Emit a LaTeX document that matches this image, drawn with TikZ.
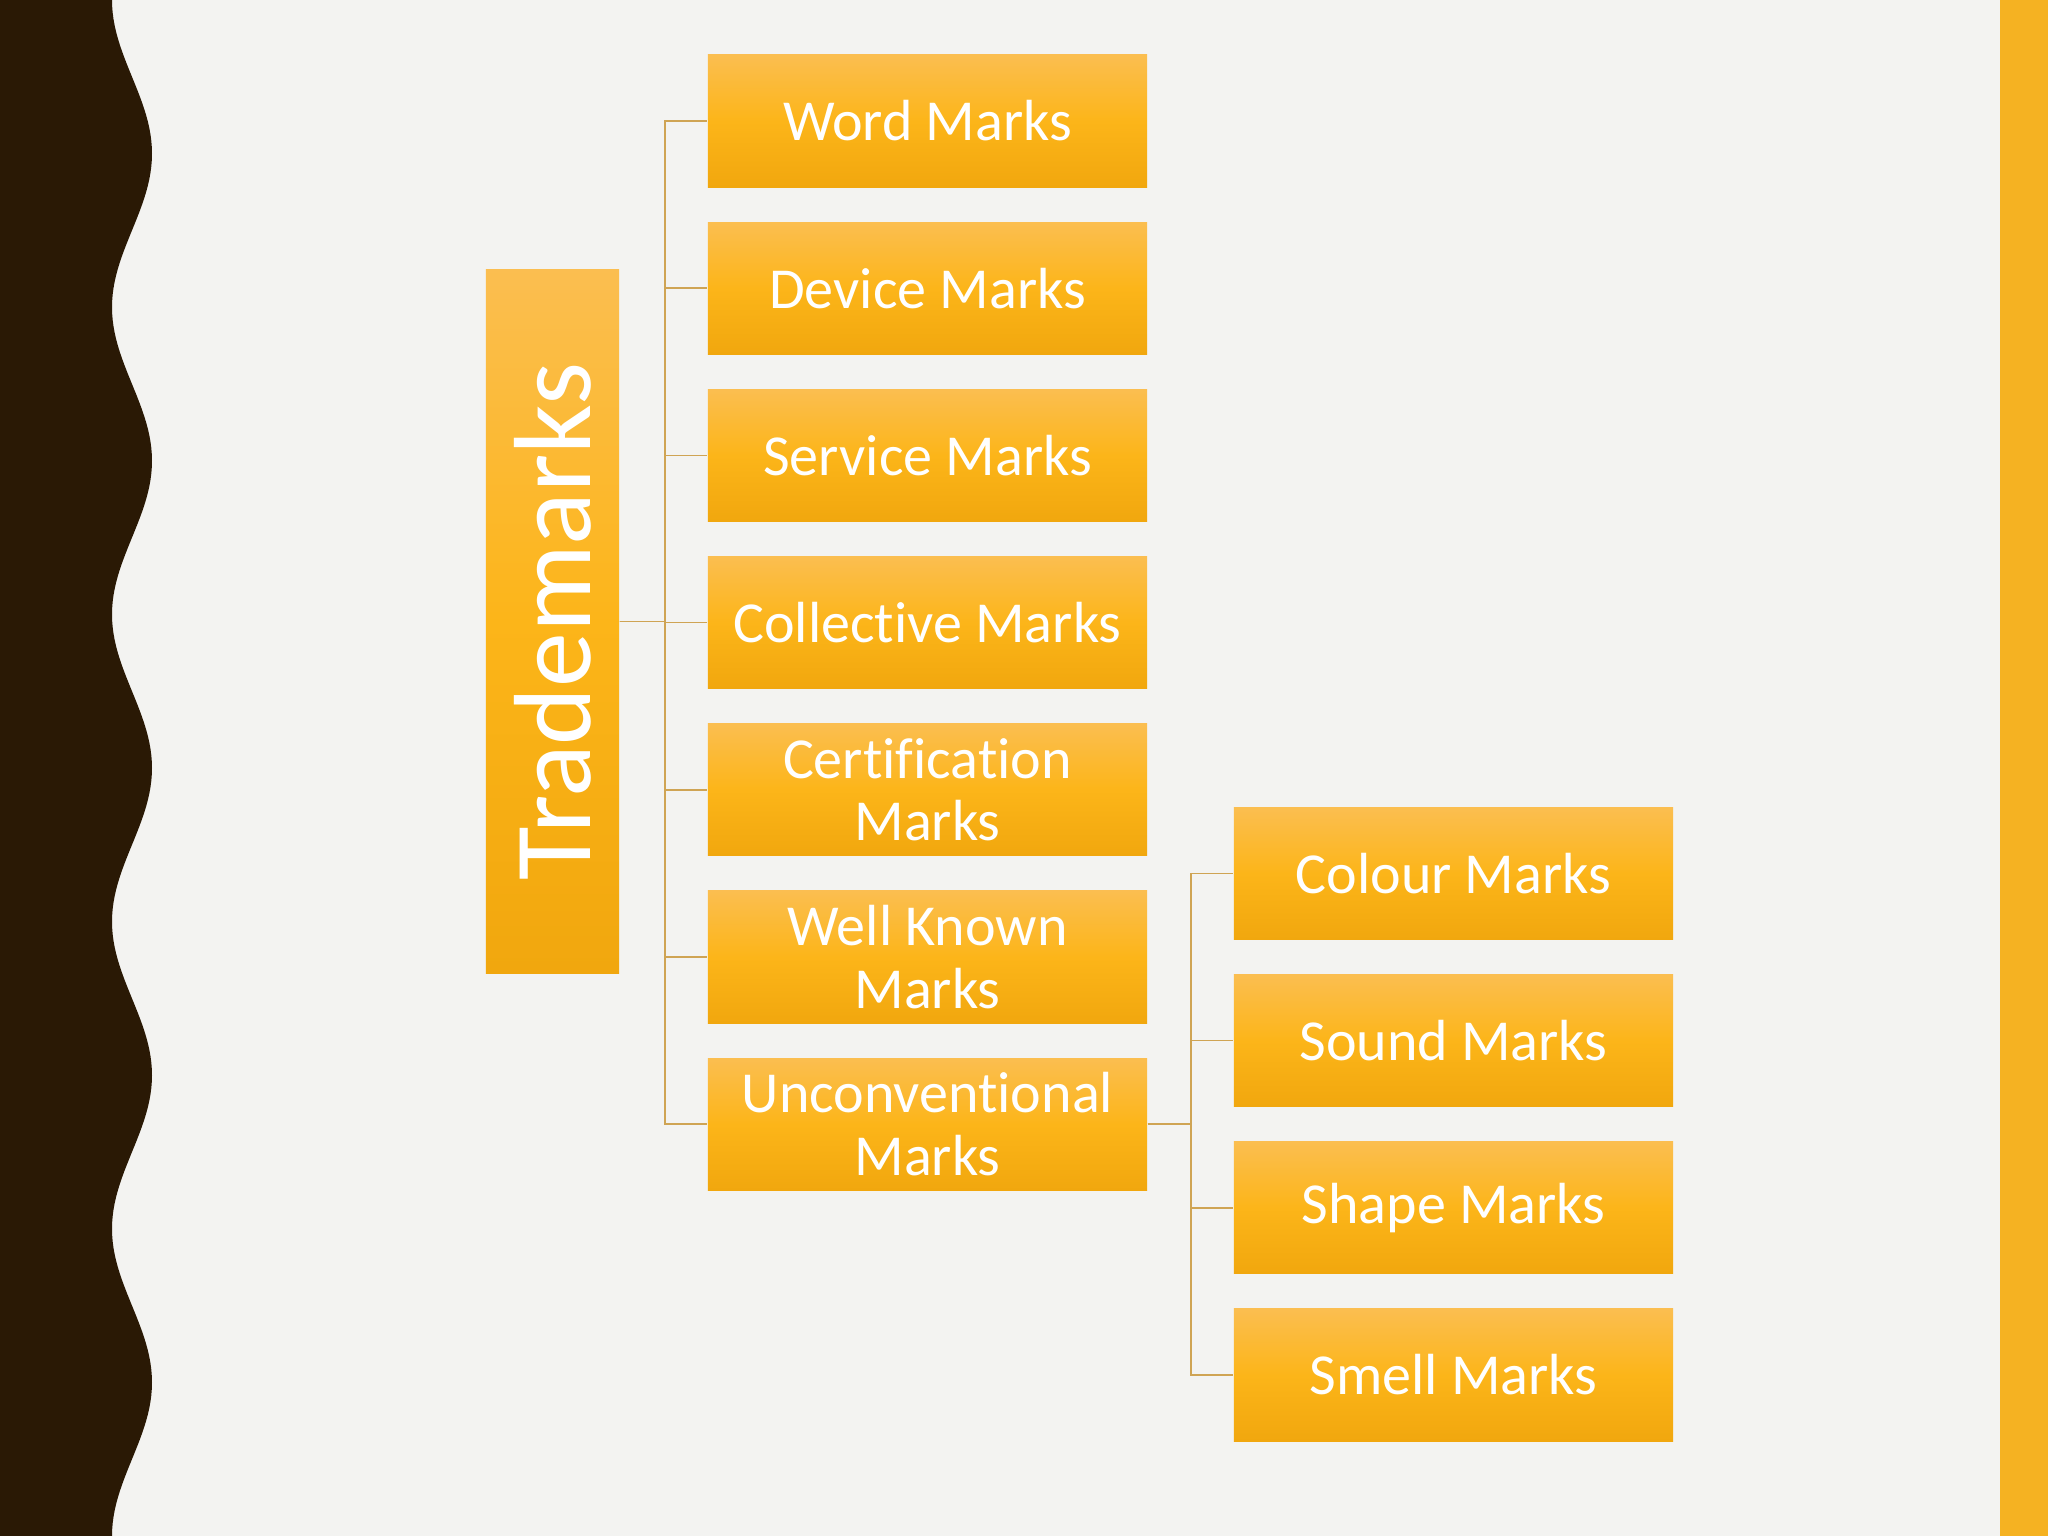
\documentclass[tikz,border=0pt]{standalone}
\usepackage{fontspec}
\setmainfont{Carlito}[Ligatures=NoCommon]
\usetikzlibrary{calc}
\definecolor{bgpaper}{HTML}{F3F3F1}
\definecolor{darkband}{HTML}{2A1905}
\definecolor{goldband}{HTML}{F5B222}
\definecolor{boxtop}{HTML}{FBBE50}
\definecolor{boxmid}{HTML}{FCB519}
\definecolor{boxbot}{HTML}{F1A70E}
\definecolor{linkcol}{HTML}{CFA454}
\tikzset{
  markbox/.style={rectangle, top color=boxtop, bottom color=boxbot, middle color=boxmid,
    minimum width=4.39cm, minimum height=1.32cm, inner sep=0pt, text=white,
    align=center, font=\fontsize{16.5}{17.8}\selectfont},
  link/.style={draw=linkcol, line width=0.45pt},
}

\begin{document}
\begin{tikzpicture}[x=0.01cm, y=-0.01cm]
\fill[bgpaper] (0,0) rectangle (2048,1536);
\useasboundingbox (0,0) rectangle (2048,1536);
% side bands
\fill[darkband] (0,0) -- plot[domain=0:1536, samples=241] ({132+20*cos(1.171875*(\x-153.6))}, \x) -- (0,1536) -- cycle;
\fill[goldband] (2000,0) rectangle (2048,1536);

\node[markbox, minimum width=1.33cm, minimum height=7.03cm, font=\fontsize{31.2}{31.2}\selectfont] (tm) at (552.5,621.5) {\rotatebox{90}{Trademarks}};

% first level
\foreach \name/\txt [count=\i from 0] in {word/Word Marks, device/Device Marks, service/Service Marks, collective/Collective Marks, cert/Certification\\Marks, known/Well Known\\Marks, uncon/Unconventional\\Marks}
	\node[markbox] (\name) at (927.5,121+167.2*\i) {\txt};
\coordinate (trunkA) at (665,0);
\foreach \name in {word,device,service,collective,cert,known,uncon}
	\draw[link] (tm.east) -- (tm.east -| trunkA) |- (\name.west);

% unconventional marks
\foreach \name/\txt [count=\i from 0] in {colour/Colour Marks, sound/Sound Marks, shape/Shape Marks, smell/Smell Marks}
	\node[markbox] (\name) at (1453.5,873.4+167.2*\i) {\txt};
\coordinate (trunkB) at (1191,0);
\foreach \name in {colour,sound,shape,smell}
	\draw[link] (uncon.east) -- (uncon.east -| trunkB) |- (\name.west);
\end{tikzpicture}
\end{document}
